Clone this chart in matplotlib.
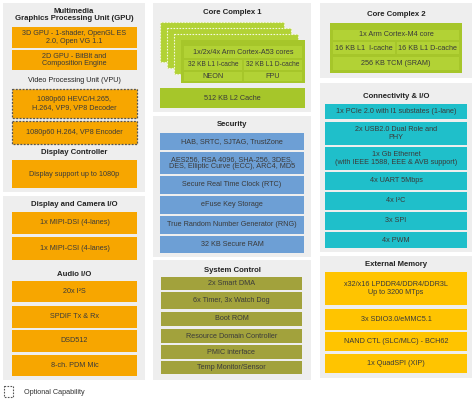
import matplotlib
matplotlib.use("Agg")
import matplotlib.pyplot as plt
from matplotlib.patches import Rectangle

plt.rcParams['font.family'] = ['Liberation Sans', 'DejaVu Sans']

# ---- content ----
gpu_items = ["3D GPU - 1-shader, OpenGL ES\n2.0, Open VG 1.1", "2D GPU - BitBlt and\nComposition Engine"]
vpu_items = ["1080p60 HEVC/H.265,\nH.264, VP9, VP8 Decoder", "1080p60 H.264, VP8 Encoder"]
display_items = ["Display support up to 1080p"]
dispcam_items = ["1x MIPI-DSI (4-lanes)", "1x MIPI-CSI (4-lanes)"]
audio_items = ["20x I²S", "SPDIF Tx & Rx", "DSD512", "8-ch. PDM Mic"]
cc1_rows = ["1x/2x/4x Arm Cortex-A53 cores", "32 KB L1 I-cache", "32 KB L1 D-cache", "NEON", "FPU", "512 KB L2 Cache"]
security_items = ["HAB, SRTC, SJTAG, TrustZone", "AES256, RSA 4096, SHA-256, 3DES,\nDES, Elliptic Curve (ECC), ARC4, MD5",
                  "Secure Real Time Clock (RTC)", "eFuse Key Storage", "True Random Number Generator (RNG)", "32 KB Secure RAM"]
sysctl_items = ["2x Smart DMA", "6x Timer, 3x Watch Dog", "Boot ROM", "Resource Domain Controller", "PMIC interface", "Temp Monitor/Sensor"]
cc2_rows = ["1x Arm Cortex-M4 core", "16 KB L1  I-cache", "16 KB L1 D-cache", "256 KB TCM (SRAM)"]
conn_items = ["1x PCIe 2.0 with l1 substates (1-lane)", "2x USB2.0 Dual Role and\nPHY", "1x Gb Ethernet\n(with IEEE 1588, EEE & AVB support)",
              "4x UART 5Mbps", "4x I²C", "3x SPI", "4x PWM"]
extmem_items = ["x32/x16 LPDDR4/DDR4/DDR3L\nUp to 3200 MTps", "3x SDIO3.0/eMMC5.1", "NAND CTL (SLC/MLC) - BCH62", "1x QuadSPI (XIP)"]
titles = ["Multimedia\nGraphics Processing Unit (GPU)", "Video Processing Unit (VPU)", "Display Controller", "Display and Camera I/O",
          "Audio I/O", "Core Complex 1", "Security", "System Control", "Core Complex 2", "Connectivity & I/O", "External Memory"]
legend_text = "Optional Capability"

# ---- styles ----
PANEL = "#eeeeee"; ORANGE = "#f7a600"; YELLOW = "#ffc400"; BLUE = "#6d9fd5"
TEAL = "#1fbfca"; OLIVE = "#a2a23c"; GREEN = "#b2d235"; GREEN2 = "#a6c62a"
FS = 5.2

fig = plt.figure(figsize=(4.74, 4.01), dpi=100)
ax = fig.add_axes([0, 0, 1, 1])
ax.set_xlim(0, 474); ax.set_ylim(401, 0); ax.axis("off")

def rect(x0, y0, x1, y1, fc, ec="none", ls="-", lw=0.8, z=1):
    ax.add_patch(Rectangle((x0, y0), x1 - x0, y1 - y0, fc=fc, ec=ec, ls=ls, lw=lw, zorder=z))

def box(x0, y0, x1, y1, fc, text, dashed=False, color="#3a3a3a", fs=FS, z=2):
    if dashed:
        rect(x0, y0, x1, y1, fc, ec="#555555", ls=(0, (1.5, 1.2)), lw=0.9, z=z)
    else:
        rect(x0, y0, x1, y1, fc, z=z)
    ax.text((x0 + x1) / 2, (y0 + y1) / 2, text, ha="center", va="center", fontsize=fs,
            color=color, linespacing=1.15, zorder=z + 1)

def title(x, y, t):
    ax.text(x, y, t, ha="center", va="center", fontsize=5.6, fontweight="bold", color="#222222", linespacing=1.1)

# panels
for p in [(3, 3, 145, 192), (3, 196, 145, 380), (153, 3, 311, 112), (153, 116, 311, 257),
          (153, 260, 311, 380), (320, 3, 472, 78), (320, 83, 472, 252), (320, 256, 472, 378)]:
    rect(*p, PANEL, z=0)

# left column
title(74, 15, titles[0])
for (y0, y1), t in zip([(27, 48), (50, 70)], gpu_items):
    box(12, y0, 137, y1, ORANGE, t)
ax.text(74, 80, titles[1], ha="center", va="center", fontsize=FS, color="#222222")
for (y0, y1), t in zip([(89, 118), (121, 144)], vpu_items):
    box(12, y0, 137, y1, ORANGE, t, dashed=True)
title(74, 153, titles[2])
box(12, 160, 137, 188, ORANGE, display_items[0])
title(74, 205, titles[3])
for (y0, y1), t in zip([(212, 234), (237, 260)], dispcam_items):
    box(12, y0, 137, y1, ORANGE, t)
title(74, 275, titles[4])
for (y0, y1), t in zip([(281, 302), (306, 328), (330, 352), (355, 376)], audio_items):
    box(12, y0, 137, y1, ORANGE, t)
rect(4, 386, 13, 397, "none", ec="#555555", ls=(0, (1.5, 1.2)), lw=0.8)
ax.text(24, 392, legend_text, ha="left", va="center", fontsize=FS, color="#333333")

# core complex 1
title(232, 13, titles[5])
for i in range(3):
    x0 = 160 + 7 * i; y0 = 22 + 6 * i
    rect(x0, y0, x0 + 124, y0 + 40, GREEN, ec="#f4f8dc", ls=(0, (1.5, 1.2)), lw=0.8, z=1 + i * 0.1)
rect(181, 40, 305, 83, GREEN2, z=2)
box(184, 46, 302, 58, GREEN, cc1_rows[0])
box(184, 60, 242, 70, GREEN, cc1_rows[1], fs=4.8)
box(244, 60, 302, 70, GREEN, cc1_rows[2], fs=4.8)
box(184, 72, 242, 81, GREEN, cc1_rows[3])
box(244, 72, 302, 81, GREEN, cc1_rows[4])
box(160, 88, 305, 108, GREEN2, cc1_rows[5])

# security
title(232, 125, titles[6])
for (y0, y1), t in zip([(133, 150), (152, 174), (176, 194), (196, 214), (216, 234), (236, 253)], security_items):
    box(160, y0, 304, y1, BLUE, t)

# system control
title(232, 270, titles[7])
for (y0, y1), t in zip([(277, 290), (292, 309), (312, 326), (329, 343), (345, 359), (361, 374)], sysctl_items):
    box(161, y0, 302, y1, OLIVE, t)

# core complex 2
title(396, 14, titles[8])
rect(330, 23, 462, 73, GREEN2, z=1)
box(333, 30, 459, 40, GREEN, cc2_rows[0])
box(333, 42, 395, 54, GREEN, cc2_rows[1])
box(397, 42, 459, 54, GREEN, cc2_rows[2])
box(333, 57, 459, 70, GREEN, cc2_rows[3])

# connectivity
title(396, 96, titles[9])
for (y0, y1), t in zip([(104, 119), (122, 145), (147, 170), (172, 190), (192, 210), (212, 230), (232, 248)], conn_items):
    box(325, y0, 467, y1, TEAL, t)

# external memory
title(396, 265, titles[10])
for (y0, y1), t in zip([(272, 305), (309, 330), (332, 351), (354, 373)], extmem_items):
    box(325, y0, 467, y1, YELLOW, t)

fig.savefig("out.png", dpi=100, facecolor="white")
